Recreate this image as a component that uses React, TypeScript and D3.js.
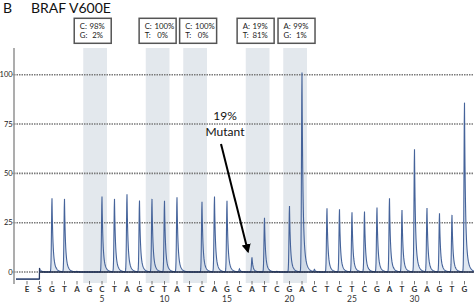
import React from "react";
import * as d3 from "d3";

const dispensation = ["E","S","G","T","A","G","C","T","A","G","C","T","A","T","C","A","G","C","A","T","C","G","A","C","T","C","T","C","G","A","T","G","A","G","T","G"];
// peak heights for positions 1..34 (dispensation index 2..35)
const peakHeights = [37.4,37,0.3,0,38.2,37,39.4,36.2,37,36,37.8,0,35.6,38.2,36,1.5,7.4,27.5,0.3,33.4,101,1.2,32.3,31.8,30.2,30.6,32.6,37.3,31.4,62.2,32.3,29.7,28.9,85.8];
const yTicks = [0,25,50,75,100];
const xNumberTicks = [5,10,15,20,25,30];
const bandPositions: [number, number][] = [[4,5],[9,10],[12,13],[17,18],[20,21]];
const bandLabels = [["C:","98%","G:","2%"],["C:","100%","T:","0%"],["C:","100%","T:","0%"],["A:","19%","T:","81%"],["A:","99%","G:","1%"]];
const boxShift = [-2.4, 0, 3, -2, 1.4];
const preOffset = -3.6;
const sBump = 2;
const title = ["B", "BRAF V600E"];
const annotation = ["19%", "Mutant"];
const mutantPos = 17;

const W = 474, H = 303;
const FONT = "Lato, 'Open Sans', sans-serif";

export default function App() {
  const x = d3.scaleLinear().domain([-1, 34]).range([27, 464.5]);
  const y = d3.scaleLinear().domain([0, 100]).range([272, 74.7]);

  const pts: [number, number][] = [];
  const xStart = 16, xEnd = 474;
  const sX = x(0);
  for (let px = xStart; px <= xEnd; px += 0.25) {
    let v = 0;
    if (px < sX) v = preOffset;
    else v += sBump * Math.exp(-(px - sX) / 1.5);
    peakHeights.forEach((h, i) => {
      if (h <= 0) return;
      const dx = px - x(i + 1);
      if (dx < 0) v += h * Math.exp(-(dx * dx) / (2 * 0.5 * 0.5));
      else v += h * (0.72 * Math.exp(-dx / 0.85) + 0.28 * Math.exp(-dx / 2.4));
    });
    pts.push([px, v]);
  }
  const line = d3.line<[number, number]>().x(d => d[0]).y(d => y(d[1]));
  const area = d3.area<[number, number]>().x(d => d[0]).y0(y(0)).y1(d => y(Math.max(0, d[1])));

  const axisX = 14;
  const bandTop = 48, bandBottom = 283;

  return (
    <svg width={W} height={H} style={{ position: "absolute", left: 0, top: 0, background: "#fff" }} fontFamily={FONT}>
      <rect width={W} height={H} fill="#fff" />
      <text x={3} y={12.5} fontSize={14} fill="#111">{title[0]}</text>
      <text x={31} y={12.5} fontSize={14} fill="#111">{title[1]}</text>

      {bandPositions.map(([a, b], i) => (
        <rect key={i} x={x(a - 0.5)} y={bandTop} width={x(b + 0.4) - x(a - 0.5)} height={bandBottom - bandTop} fill="#e3e8ed" />
      ))}

      {bandPositions.map(([a, b], i) => {
        const cx = (x(a - 0.5) + x(b + 0.4)) / 2 + boxShift[i];
        const bw = 37, bh = 25, by = 18.3;
        const lx = cx - bw / 2;
        const l = bandLabels[i];
        return (
          <g key={i}>
            <rect x={lx} y={by} width={bw} height={bh} fill="#fff" stroke="#555" strokeWidth={1.5} />
            <text x={lx + 5.5} y={by + 10.5} fontSize={7.8} fill="#222">{l[0]}</text>
            <text x={lx + 15.3} y={by + 10.5} fontSize={7.8} fill="#222">{l[1]}</text>
            <text x={lx + 5.5} y={by + 19.8} fontSize={7.8} fill="#222">{l[2]}</text>
            <text x={lx + (l[3].length < 3 ? 18 : 15.3)} y={by + 19.8} fontSize={7.8} fill="#222">{l[3]}</text>
          </g>
        );
      })}

      {yTicks.map(t => (
        <g key={t}>
          <line x1={axisX} x2={W} y1={y(t)} y2={y(t)} stroke="#7a7a7a" strokeWidth={1.6} strokeDasharray="1.5 1" />
          <line x1={axisX - 1.5} x2={axisX} y1={y(t)} y2={y(t)} stroke="#777" strokeWidth={1} />
          <text x={axisX - 1.4} y={y(t) + 2.7} fontSize={7.5} textAnchor="end" fill="#222">{t}</text>
        </g>
      ))}

      <line x1={axisX} x2={axisX} y1={bandTop} y2={284} stroke="#999" strokeWidth={1.6} />

      <path d={area(pts.filter(p => p[0] >= sX)) || ""} fill="#b9c9e0" opacity={0.45} />
      <path d={line(pts) || ""} fill="none" stroke="#45639a" strokeWidth={1.1} />
      <line x1={sX} x2={xEnd} y1={y(0)} y2={y(0)} stroke="#1d2a48" strokeWidth={1.3} />
      <line x1={xStart} x2={sX} y1={y(preOffset)} y2={y(preOffset)} stroke="#2a3a60" strokeWidth={1.1} />
      <line x1={sX} x2={sX} y1={y(preOffset)} y2={y(sBump)} stroke="#2a3a60" strokeWidth={1.1} />

      {dispensation.map((c, i) => (
        <g key={i}>
          <line x1={x(i - 1)} x2={x(i - 1)} y1={281} y2={284.5} stroke="#777" strokeWidth={1} />
          <text x={x(i - 1)} y={291.5} fontSize={8} textAnchor="middle" fill="#333" fontWeight="bold">{c}</text>
        </g>
      ))}
      {xNumberTicks.map(n => (
        <text key={n} x={x(n)} y={302} fontSize={8.5} textAnchor="middle" fill="#333">{n}</text>
      ))}

      <text x={225} y={120} fontSize={12} textAnchor="middle" fill="#111">{annotation[0]}</text>
      <text x={225} y={136} fontSize={12} textAnchor="middle" fill="#111">{annotation[1]}</text>
      <defs>
        <marker id="ah" viewBox="0 0 10 10" refX={8} refY={5} markerWidth={4.5} markerHeight={4.5} orient="auto">
          <path d="M0,0 L10,5 L0,10 z" fill="#000" />
        </marker>
      </defs>
      <line x1={221} y1={144} x2={x(mutantPos) - 4} y2={y(peakHeights[mutantPos - 1]) - 6} stroke="#000" strokeWidth={2} markerEnd="url(#ah)" />
    </svg>
  );
}
